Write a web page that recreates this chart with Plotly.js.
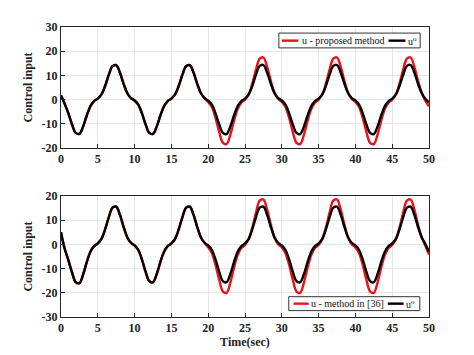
<!DOCTYPE html>
<html>
<head>
<meta charset="utf-8">
<script src="https://cdn.plot.ly/plotly-3.0.1.min.js"></script>
<style>html,body{margin:0;padding:0;background:#fff;}#chart{width:474px;height:355px;}</style>
</head>
<body>
<div id="chart"></div>
<script>
// Time samples (sec)
const time = [0,0.5,1,1.5,2,2.5,3,3.5,4,4.5,5,5.5,6,6.5,7,7.5,8,8.5,9,9.5,
  10,10.5,11,11.5,12,12.5,13,13.5,14,14.5,15,15.5,16,16.5,17,17.5,18,18.5,19,19.5,
  20,20.5,21,21.5,22,22.5,23,23.5,24,24.5,25,25.5,26,26.5,27,27.5,28,28.5,29,29.5,
  30,30.5,31,31.5,32,32.5,33,33.5,34,34.5,35,35.5,36,36.5,37,37.5,38,38.5,39,39.5,
  40,40.5,41,41.5,42,42.5,43,43.5,44,44.5,45,45.5,46,46.5,47,47.5,48,48.5,49,49.5,50];

// Top panel: u - proposed method (red) and u° (black)
const topProposed = [1.8,-1.8,-5.7,-10.3,-13.8,-14.2,-11.2,-6.6,-2.7,-0.6,0.4,2.1,5.7,10.3,13.8,14.2,11.2,6.6,2.7,0.6,
  -0.4,-2.1,-5.7,-10.3,-13.8,-14.2,-11.2,-6.6,-2.7,-0.6,0.4,2.1,5.7,10.3,13.8,14.2,11.2,6.6,2.7,0.6,
  -1.0,-3.1,-7.7,-13.5,-17.9,-18.4,-14.6,-8.8,-3.9,-1.3,0.0,2.1,6.7,12.5,16.9,17.4,13.6,7.8,2.9,0.3,
  -1.0,-3.1,-7.7,-13.5,-17.9,-18.4,-14.6,-8.8,-3.9,-1.3,0.0,2.1,6.7,12.5,16.9,17.4,13.6,7.8,2.9,0.3,
  -1.0,-3.1,-7.7,-13.5,-17.9,-18.4,-14.6,-8.8,-3.9,-1.3,0.0,2.1,6.7,12.5,16.9,17.4,13.6,7.8,2.9,-0.5,-2.8];
const topRef = [1.8,-1.8,-5.7,-10.3,-13.8,-14.2,-11.2,-6.6,-2.7,-0.6,0.4,2.1,5.7,10.3,13.8,14.2,11.2,6.6,2.7,0.6,
  -0.4,-2.1,-5.7,-10.3,-13.8,-14.2,-11.2,-6.6,-2.7,-0.6,0.4,2.1,5.7,10.3,13.8,14.2,11.2,6.6,2.7,0.6,
  -0.5,-2.1,-5.7,-10.3,-13.8,-14.3,-11.2,-6.6,-2.7,-0.6,0.4,2.1,5.7,10.3,13.9,14.3,11.2,6.6,2.7,0.6,
  -0.4,-2.1,-5.7,-10.3,-13.8,-14.3,-11.2,-6.6,-2.7,-0.6,0.4,2.1,5.7,10.3,13.9,14.3,11.2,6.6,2.7,0.6,
  -0.4,-2.1,-5.7,-10.3,-13.8,-14.3,-11.2,-6.6,-2.7,-0.6,0.4,2.1,5.7,10.3,13.9,14.3,11.2,6.6,2.7,0.3,-1.2];

// Bottom panel: u - method in [36] (red) and u° (black)
const botMethod36 = [5.0,-1.8,-6.5,-11.6,-15.6,-16.0,-12.5,-7.3,-3.0,-0.7,0.4,2.3,6.3,11.3,15.2,15.6,12.3,7.3,3.0,0.7,
  -0.4,-2.3,-6.3,-11.3,-15.2,-15.6,-12.3,-7.3,-3.0,-0.7,0.4,2.3,6.3,11.3,15.2,15.6,12.3,7.3,3.0,0.7,
  -1.2,-3.6,-8.5,-14.7,-19.5,-20.0,-15.9,-9.7,-4.4,-1.5,-0.2,2.2,7.1,13.3,18.1,18.6,14.5,8.3,3.0,0.1,
  -1.2,-3.6,-8.5,-14.7,-19.5,-20.0,-15.9,-9.7,-4.4,-1.5,-0.2,2.2,7.1,13.3,18.1,18.6,14.5,8.3,3.0,0.1,
  -1.2,-3.6,-8.5,-14.7,-19.5,-20.0,-15.9,-9.7,-4.4,-1.5,-0.2,2.2,7.1,13.3,18.1,18.6,14.5,8.3,3.0,-0.6,-4.2];
const botRef = [5.0,-1.8,-6.5,-11.6,-15.6,-16.0,-12.5,-7.3,-3.0,-0.7,0.4,2.3,6.3,11.3,15.2,15.6,12.3,7.3,3.0,0.7,
  -0.4,-2.3,-6.3,-11.3,-15.2,-15.6,-12.3,-7.3,-3.0,-0.7,0.4,2.3,6.3,11.3,15.2,15.6,12.3,7.3,3.0,0.7,
  -0.4,-2.3,-6.3,-11.3,-15.2,-15.6,-12.3,-7.3,-3.0,-0.7,0.4,2.3,6.3,11.3,15.2,15.6,12.3,7.3,3.0,0.7,
  -0.4,-2.3,-6.3,-11.3,-15.2,-15.6,-12.3,-7.3,-3.0,-0.7,0.4,2.3,6.3,11.3,15.2,15.6,12.3,7.3,3.0,0.7,
  -0.4,-2.3,-6.3,-11.3,-15.2,-15.6,-12.3,-7.3,-3.0,-0.7,0.4,2.3,6.3,11.3,15.2,15.6,12.3,7.3,3.0,0.2,-3.0];

// Tick labels
const xTicks = [0,5,10,15,20,25,30,35,40,45,50];
const xTickText = ['0','5','10','15','20','25','30','35','40','45','50'];
const yTicksTop = [-20,-10,0,10,20,30];
const yTickTextTop = ['-20','-10','0','10','20','30'];
const yTicksBot = [-30,-20,-10,0,10,20];
const yTickTextBot = ['-30','-20','-10','0','10','20'];

// Series / legend labels
const labelTopRed = 'u - proposed method';
const labelBotRed = 'u - method in [36]';
const labelBlack = 'u<sup>o</sup>';

const RED = 'rgb(232,18,24)';
const BLACK = '#000000';
const serif = 'Liberation Serif, Times New Roman, serif';

const traces = [
  {x: time, y: topProposed, name: labelTopRed, mode: 'lines', line: {color: RED, width: 2.4, shape: 'spline'}, xaxis: 'x', yaxis: 'y'},
  {x: time, y: topRef, name: labelBlack, mode: 'lines', line: {color: BLACK, width: 2.4, shape: 'spline'}, xaxis: 'x', yaxis: 'y'},
  {x: time, y: botMethod36, name: labelBotRed, mode: 'lines', line: {color: RED, width: 2.4, shape: 'spline'}, xaxis: 'x2', yaxis: 'y2'},
  {x: time, y: botRef, name: labelBlack, mode: 'lines', line: {color: BLACK, width: 2.4, shape: 'spline'}, xaxis: 'x2', yaxis: 'y2'}
];

const axisCommon = {
  showline: true, mirror: true, linecolor: '#262626', linewidth: 1,
  ticks: 'inside', ticklen: 4, tickcolor: '#262626',
  showgrid: true, gridcolor: '#e6e6e6', gridwidth: 1,
  zeroline: false,
  tickfont: {family: serif, size: 12, color: '#222', weight: 'bold'},
  tickmode: 'array'
};
const titleFont = {family: serif, size: 12, color: '#222', weight: 'bold'};
const legFont = {family: serif, size: 10, color: '#111'};

// Hand-built legend boxes (paper coordinates)
function legendBox(x0, x1, y0, y1, redX, blackX, textRedX, textBlackX, yMid, redLabel) {
  return {
    shapes: [
      {type: 'rect', xref: 'paper', yref: 'paper', x0: x0, x1: x1, y0: y0, y1: y1,
        line: {color: '#333', width: 1}, fillcolor: '#fff', layer: 'above'},
      {type: 'line', xref: 'paper', yref: 'paper', x0: redX[0], x1: redX[1], y0: yMid, y1: yMid,
        line: {color: RED, width: 2.4}, layer: 'above'},
      {type: 'line', xref: 'paper', yref: 'paper', x0: blackX[0], x1: blackX[1], y0: yMid, y1: yMid,
        line: {color: BLACK, width: 2.4}, layer: 'above'}
    ],
    annotations: [
      {xref: 'paper', yref: 'paper', x: textRedX, y: yMid, xanchor: 'left', yanchor: 'middle',
        text: redLabel, showarrow: false, font: legFont, borderpad: 0},
      {xref: 'paper', yref: 'paper', x: textBlackX, y: yMid, xanchor: 'left', yanchor: 'middle',
        text: labelBlack, showarrow: false, font: legFont, borderpad: 0}
    ]
  };
}
const legTop = legendBox(0.592, 0.976, 0.928, 0.979, [0.600, 0.645], [0.890, 0.936], 0.652, 0.939, 0.953, labelTopRed);
const legBot = legendBox(0.619, 0.975, 0.022, 0.070, [0.632, 0.673], [0.888, 0.931], 0.676, 0.936, 0.046, labelBotRed);

const layout = {
  width: 474, height: 355,
  margin: {l: 61, r: 45, t: 27, b: 38},
  paper_bgcolor: '#fff', plot_bgcolor: '#fff',
  showlegend: false,
  xaxis: Object.assign({}, axisCommon, {domain: [0,1], anchor: 'y', range: [0,50], tickvals: xTicks, ticktext: xTickText}),
  yaxis: Object.assign({}, axisCommon, {domain: [0.583,1], anchor: 'x', range: [-20,30], tickvals: yTicksTop, ticktext: yTickTextTop,
    title: {text: 'Control input', font: titleFont, standoff: 6}}),
  xaxis2: Object.assign({}, axisCommon, {domain: [0,1], anchor: 'y2', range: [0,50], tickvals: xTicks, ticktext: xTickText,
    title: {text: 'Time(sec)', font: titleFont, standoff: 2}}),
  yaxis2: Object.assign({}, axisCommon, {domain: [0,0.417], anchor: 'x2', range: [-30,20], tickvals: yTicksBot, ticktext: yTickTextBot,
    title: {text: 'Control input', font: titleFont, standoff: 6}}),
  shapes: legTop.shapes.concat(legBot.shapes),
  annotations: legTop.annotations.concat(legBot.annotations)
};

Plotly.newPlot('chart', traces, layout, {staticPlot: true, displayModeBar: false});
</script>
</body>
</html>
